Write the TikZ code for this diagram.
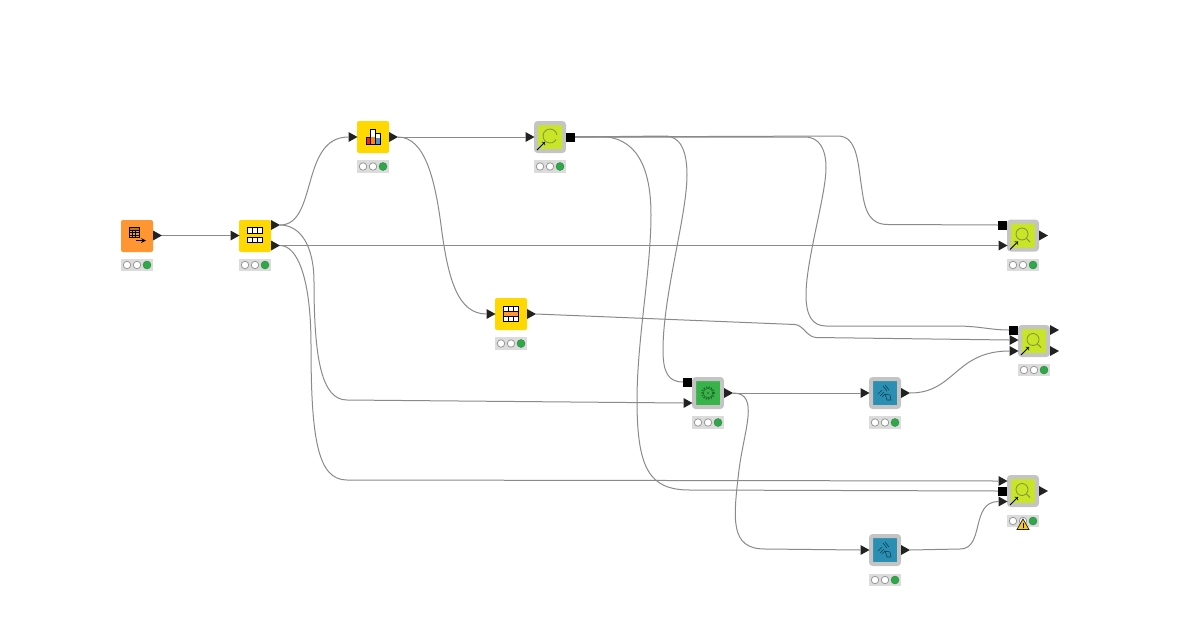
\documentclass[tikz,border=0pt]{standalone}
\usepackage{tikz}
\usetikzlibrary{shapes.geometric, calc}

\definecolor{srccol}{HTML}{FF9632}
\definecolor{manipcol}{HTML}{FFD800}
\definecolor{viewcol}{HTML}{C8E528}
\definecolor{learncol}{HTML}{38B34A}
\definecolor{predcol}{HTML}{2A8FB2}
\definecolor{framecol}{HTML}{C4C4C4}
\definecolor{panelcol}{HTML}{DCDCDC}
\definecolor{okcol}{HTML}{2FA84A}
\definecolor{edgecol}{HTML}{8A8A8A}
\definecolor{darkcol}{HTML}{222222}
\definecolor{warncol}{HTML}{F7C81E}

\tikzset{
    plainbody/.style={rectangle, rounded corners=2pt, minimum size=32pt, inner sep=0pt},
    framebody/.style={rectangle, rounded corners=2pt, minimum size=28pt, inner sep=0pt, draw=framecol, line width=4pt},
    triport/.style={isosceles triangle, isosceles triangle stretches, fill=darkcol, inner sep=0pt, outer sep=0pt,
        minimum width=10pt, minimum height=9pt, anchor=lower side},
    boxport/.style={rectangle, fill=black, inner sep=0pt, outer sep=0pt, minimum size=9pt},
    panel/.style={rectangle, fill=panelcol, inner sep=0pt, minimum width=32pt, minimum height=12.5pt},
    lightoff/.style={circle, fill=white, draw=gray!80, line width=0.8pt, inner sep=0pt, minimum size=7.5pt},
    lighton/.style={circle, fill=okcol, draw=okcol!80!black, line width=0.4pt, inner sep=0pt, minimum size=8pt},
    edge/.style={draw=edgecol, line width=1pt},
    cell/.style={fill=white, draw=black, line width=1pt},
    shortcut/.style={->, >=to, black, line width=0.8pt}
}

% status lights under a node
\newcommand{\statuslights}[3]{
    \node[panel] (#1) at (#2,#3) {};
    \node[lightoff] (#1a) at ($(#1)+(-10,0)$) {};
    \node[lightoff] (#1b) at (#1) {};
    \node[lighton] (#1c) at ($(#1)+(10,0)$) {};
}

\begin{document}
\begin{tikzpicture}[x=1pt,y=-1pt]
    \useasboundingbox (0,0) rectangle (1200,630);

    % Draw the node bodies
    \node[plainbody, fill=srccol] (reader) at (137,236) {};
    \node[plainbody, fill=manipcol] (split) at (255,236) {};
    \node[plainbody, fill=manipcol] (bars) at (373,137) {};
    \node[framebody, fill=viewcol] (loop) at (550,137) {};
    \node[plainbody, fill=manipcol] (table) at (511,314) {};
    \node[framebody, fill=learncol] (learn) at (708,393) {};
    \node[framebody, fill=predcol] (predA) at (885,393) {};
    \node[framebody, fill=predcol] (predB) at (885,550) {};
    \node[framebody, fill=viewcol] (viewA) at (1023,235.5) {};
    \node[framebody, fill=viewcol] (viewB) at (1034,341) {};
    \node[framebody, fill=viewcol] (viewC) at (1023,491) {};

    % Draw the status lights
    \statuslights{readerlights}{137}{265}
    \statuslights{splitlights}{255}{265}
    \statuslights{barslights}{373}{166.5}
    \statuslights{looplights}{550}{166.5}
    \statuslights{tablelights}{511}{343.5}
    \statuslights{learnlights}{708}{422.5}
    \statuslights{predAlights}{885}{422.5}
    \statuslights{predBlights}{885}{580}
    \statuslights{viewAlights}{1023}{265}
    \statuslights{viewBlights}{1034}{370}
    \statuslights{viewClights}{1023}{521}

    % Draw the ports
    \node[triport] (readerout) at (153,235.5) {};
    \node[triport] (splitin) at (230.5,235.5) {};
    \node[triport] (splitoutA) at (271,225) {};
    \node[triport] (splitoutB) at (271,245.5) {};
    \node[triport] (barsin) at (348.5,137) {};
    \node[triport] (barsout) at (389,137) {};
    \node[triport] (loopin) at (525.5,137) {};
    \node[boxport] (loopout) at (570.5,137) {};
    \node[triport] (tablein) at (486.5,314) {};
    \node[triport] (tableout) at (527,314) {};
    \node[boxport] (learnbox) at (687.5,382) {};
    \node[triport] (learnin) at (683.5,403) {};
    \node[triport] (learnout) at (724,393) {};
    \node[triport] (predAin) at (860.5,393) {};
    \node[triport] (predAout) at (901,393) {};
    \node[triport] (predBin) at (860.5,550) {};
    \node[triport] (predBout) at (901,550) {};
    \node[boxport] (viewAbox) at (1002.5,225) {};
    \node[triport] (viewAin) at (998.5,245.5) {};
    \node[triport] (viewAout) at (1039,235.5) {};
    \node[boxport] (viewBbox) at (1013.5,330) {};
    \node[triport] (viewBinA) at (1009.5,340) {};
    \node[triport] (viewBinB) at (1009.5,351) {};
    \node[triport] (viewBoutA) at (1050,330) {};
    \node[triport] (viewBoutB) at (1050,351) {};
    \node[triport] (viewCinA) at (998.5,481) {};
    \node[boxport] (viewCbox) at (1002.5,491) {};
    \node[triport] (viewCinB) at (998.5,501.5) {};
    \node[triport] (viewCout) at (1039,491) {};

    % Draw the connectors
    \draw[edge] (readerout.east) -- (splitin.west);
    \draw[edge] (splitoutA.east) .. controls (318,225) and (300,137) .. (barsin.west);
    \draw[edge] (splitoutA.east) .. controls (300,225) and (314,245) .. (314,282)
        .. controls (314,360) and (322,400) .. (347,400) -- (learnin.west);
    \draw[edge] (splitoutB.east) -- (viewAin.west);
    \draw[edge] (splitoutB.east) .. controls (298,245.5) and (311,280) .. (311,345)
        .. controls (311,440) and (318,480) .. (347,480) -- (viewCinA.west);
    \draw[edge] (barsout.east) -- (loopin.west);
    \draw[edge] (barsout.east) .. controls (425,137) and (435,180) .. (441,225)
        .. controls (448,280) and (458,314) .. (tablein.west);
    \draw[edge] (loopout.east) -- (838,136) .. controls (858,136) and (858,165) .. (862,190)
        .. controls (865,212) and (870,224.5) .. (888,224.5) -- (viewAbox.west);
    \draw[edge] (loopout.east) -- (805,137) .. controls (820,137) and (826,150) .. (826,168)
        .. controls (826,195) and (806,260) .. (806,295) .. controls (806,315) and (812,326) .. (826,326)
        -- (955,326) .. controls (980,326) and (990,330) .. (viewBbox.west);
    \draw[edge] (loopout.east) -- (665,136) .. controls (680,136) and (687,150) .. (687,175)
        .. controls (687,215) and (663,295) .. (663,350) .. controls (663,372) and (668,382) .. (learnbox.west);
    \draw[edge] (loopout.east) -- (600,136.5) .. controls (635,136.5) and (651,165) .. (651,215)
        .. controls (651,270) and (637,340) .. (637,400) .. controls (637,470) and (650,490) .. (690,490) -- (viewCbox.west);
    \draw[edge] (tableout.east) -- (795,324.5) .. controls (803,325) and (807,337) .. (816,337.5) -- (viewBinA.west);
    \draw[edge] (learnout.east) -- (predAin.west);
    \draw[edge] (learnout.east) .. controls (760,393) and (744,430) .. (739,470)
        .. controls (733,520) and (730,549) .. (765,549) -- (predBin.west);
    \draw[edge] (predAout.east) .. controls (955,393) and (955,351) .. (viewBinB.west);
    \draw[edge] (predBout.east) -- (960,549) .. controls (985,549) and (970,501.5) .. (viewCinB.west);

    % Draw the icons
    % table with arrow
    \fill[srccol!75!black] (129,227) rectangle (139,230);
    \draw[black, line width=0.5pt] (129,230) rectangle (139,237.5) (132.3,230) -- (132.3,237.5) (135.7,230) -- (135.7,237.5)
        (129,232.5) -- (139,232.5) (129,235) -- (139,235);
    \draw[black, line width=0.7pt] (129,227) rectangle (139,237.5);
    \draw[->, >=stealth, black, line width=1.2pt] (136,240.5) -- (146,240.5);
    % split rows
    \foreach \rowtop in {227.5,237}{
        \draw[cell] (247.5,\rowtop) rectangle (262.5,\rowtop+5.5);
        \draw[black, line width=1pt] (252.5,\rowtop) -- (252.5,\rowtop+5.5) (257.5,\rowtop) -- (257.5,\rowtop+5.5);
    }
    % bar chart
    \fill[red!75!orange] (366,137) rectangle (370.5,144);
    \fill[white] (370.5,129.5) rectangle (375.5,137);
    \fill[orange!90!yellow] (370.5,137) rectangle (375.5,144);
    \fill[white] (375.5,133.5) rectangle (380.5,138);
    \fill[cyan!50!blue!70] (375.5,138) rectangle (380.5,144);
    \draw[black, line width=0.8pt] (366,144) -- (366,137) -- (370.5,137) (370.5,144) -- (370.5,129.5) -- (375.5,129.5) -- (375.5,144)
        (375.5,133.5) -- (380.5,133.5) -- (380.5,144) (365.5,144.3) -- (381,144.3);
    % table with coloured row
    \fill[white] (503.5,306.5) rectangle (518.5,321.5);
    \fill[srccol] (503.5,311.5) rectangle (518.5,316.5);
    \draw[black, line width=1pt] (503.5,306.5) rectangle (518.5,321.5);
    \draw[black, line width=0.8pt] (503.5,311.5) -- (518.5,311.5) (503.5,316.5) -- (518.5,316.5)
        (508.5,306.5) -- (508.5,311.5) (513.5,306.5) -- (513.5,311.5) (508.5,316.5) -- (508.5,321.5) (513.5,316.5) -- (513.5,321.5);
    % loop circle
    \draw[viewcol!50!gray!80!black, line width=0.8pt] (556.1,139.5) arc (30:350:7);
    \draw[shortcut] (537,150) -- (545,142);
    % gear
    \draw[learncol!55!black, line width=1.4pt, dash pattern=on 1.2pt off 1.4pt] (708,393) circle (6);
    \draw[learncol!55!black, line width=0.5pt] (708,393) circle (4.8);
    \fill[learncol!55!black] (708,393) circle (0.9);
    % scatter hands
    \foreach \nd in {predA,predB}{
        \begin{scope}[shift={(\nd.center)}]
            \draw[predcol!45!black, line width=0.6pt] (-7,1) -- (-3,-3) (-5,3) -- (-1,-1) (-3,4) -- (0,1)
                (-2,-7) -- (2,-2) (0,-8) -- (4,-3) (0,1) -- (2,7) -- (6,7) -- (5,2) -- (0,1);
        \end{scope}
    }
    % magnifiers and shortcut arrows
    \foreach \nd in {viewA,viewB,viewC}{
        \begin{scope}[shift={(\nd.center)}]
            \draw[viewcol!50!gray!80!black, line width=0.8pt] (-1,-1.5) circle (6);
            \draw[viewcol!50!gray!80!black, line width=1pt] (3.5,3) -- (7,6.5);
            \draw[shortcut] (-13,14) -- (-5,6);
        \end{scope}
    }

    % warning sign
    \node[isosceles triangle, isosceles triangle stretches, shape border rotate=90, fill=warncol, draw=darkcol,
        line width=0.7pt, inner sep=0pt, minimum width=12pt, minimum height=10.5pt] (warn) at (1023,526) {};
    \draw[black, line width=0.9pt] (1023,523) -- (1023,527.5) (1023,528.5) -- (1023,529.8);
\end{tikzpicture}
\end{document}
